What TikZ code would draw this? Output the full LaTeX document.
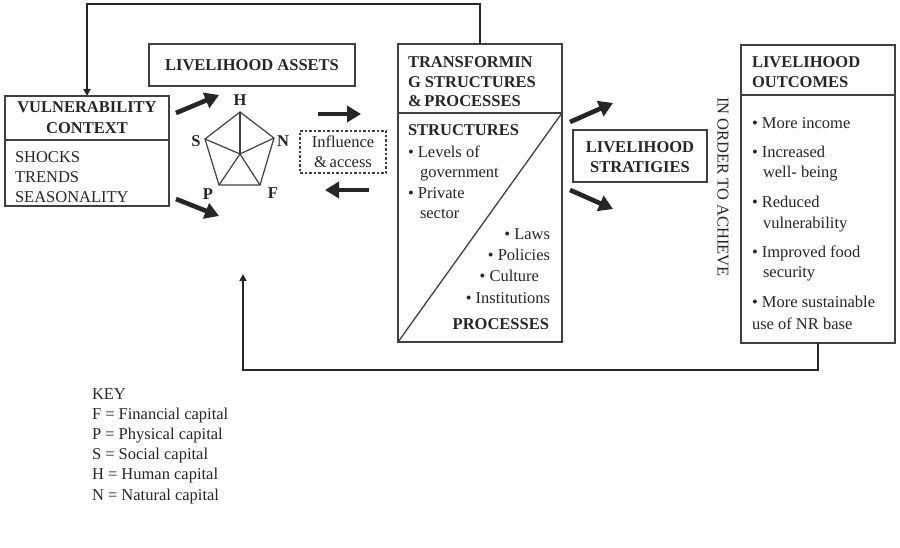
\documentclass[tikz,border=0pt]{standalone}
\usepackage{fontspec}
\setmainfont{Liberation Serif}
\usetikzlibrary{arrows.meta}
\definecolor{ink}{HTML}{262626}
\definecolor{edge}{HTML}{404040}
\begin{document}
\begin{tikzpicture}[x=1pt,y=-1pt,
  every node/.style={inner sep=0pt, outer sep=0pt, text=ink, font=\fontsize{16.5}{20}\selectfont},
  box/.style={draw=edge, line width=1.3pt, rectangle},
  bt/.style={font=\fontsize{16.5}{20}\selectfont\bfseries},
  lab/.style={anchor=base west},
  labc/.style={anchor=base},
  labe/.style={anchor=base east},
  fat/.style={line width=4.6pt, draw=ink, -{Triangle[length=14pt,width=16pt]}},
  fb/.style={line width=1.8pt, draw=ink, -{Triangle[length=7pt,width=7pt]}},
  thin/.style={draw=edge, line width=1.3pt},
]
\useasboundingbox (0,0) rectangle (900,548);

% ---------- Vulnerability context
\node[box, minimum width=164pt, minimum height=110pt] (vc) at (87,151) {};
\draw[thin] (5,140) -- (169,140);
\node[bt,labc] (vc1) at (87,113) {VULNERABILITY};
\node[bt,labc] (vc2) at (87,134) {CONTEXT};
\node[lab] (vc3) at (15,163) {SHOCKS};
\node[lab] (vc4) at (15,183) {TRENDS};
\node[lab] (vc5) at (15,203) {SEASONALITY};

% ---------- Livelihood assets
\node[box, minimum width=206pt, minimum height=42pt] (la) at (252,65) {};
\node[bt,labc] (la1) at (252,71) {LIVELIHOOD ASSETS};

% pentagon
\coordinate (pc) at (240,154);
\coordinate (pH) at (240,112);
\coordinate (pN) at (274,138);
\coordinate (pF) at (260,185);
\coordinate (pP) at (219,185);
\coordinate (pS) at (205,139);
\draw[thin, line width=1.2pt] (pH) -- (pN) -- (pF) -- (pP) -- (pS) -- cycle;
\foreach \v in {pH,pN,pF,pP,pS} \draw[thin, line width=1.2pt] (pc) -- (\v);
\node[bt] (lH) at (240,100) {H};
\node[bt] (lN) at (283,141) {N};
\node[bt] (lF) at (273,193) {F};
\node[bt] (lP) at (208,194) {P};
\node[bt] (lS) at (196,141) {S};

% influence & access
\node[draw=edge, dash pattern=on 2.5pt off 2pt, line width=1.1pt, minimum width=86pt, minimum height=42pt] (ia) at (343,152) {};
\node[labc] (ia1) at (343,148) {Influence};
\node[labc] (ia2) at (343,168) {\&\,access};

% thick arrows
\coordinate (a1s) at (176,113); \coordinate (a1e) at (219,95);
\coordinate (a2s) at (176,199); \coordinate (a2e) at (219,216);
\coordinate (a3s) at (318,114); \coordinate (a3e) at (361,114);
\coordinate (a4s) at (369,190); \coordinate (a4e) at (325,190);
\coordinate (a5s) at (570,122); \coordinate (a5e) at (613,103);
\coordinate (a6s) at (570,190); \coordinate (a6e) at (613,209);
\draw[fat] (a1s) -- (a1e);
\draw[fat] (a2s) -- (a2e);
\draw[fat] (a3s) -- (a3e);
\draw[fat] (a4s) -- (a4e);
\draw[fat] (a5s) -- (a5e);
\draw[fat] (a6s) -- (a6e);

% ---------- Transforming structures
\node[box, minimum width=164pt, minimum height=298pt] (ts) at (480,193) {};
\draw[thin] (398,113) -- (562,113);
\draw[thin] (398,342) -- (562,113);
\node[bt,lab] (ts1) at (408,68) {TRANSFORMIN};
\node[bt,lab] (ts2) at (408,88) {G STRUCTURES};
\node[bt,lab] (ts3) at (408,107) {\&\,PROCESSES};
\node[bt,lab] (ts4) at (408,136) {STRUCTURES};
\node[lab] (ts5) at (408,158) {\textbullet\ Levels of};
\node[lab] (ts6) at (420,178) {government};
\node[lab] (ts7) at (408,199) {\textbullet\ Private};
\node[lab] (ts8) at (420,219) {sector};
\node[labe] (ts9) at (550,240) {\textbullet\ Laws};
\node[labe] (ts10) at (550,261) {\textbullet\ Policies};
\node[labe] (ts11) at (539,282) {\textbullet\ Culture};
\node[labe] (ts12) at (550,303) {\textbullet\ Institutions};
\node[bt,labe] (ts13) at (549,330) {PROCESSES};

% ---------- Livelihood strategies
\node[box, minimum width=134pt, minimum height=52pt] (ls) at (640,156) {};
\node[bt,labc] (ls1) at (640,153) {LIVELIHOOD};
\node[bt,labc] (ls2) at (640,173) {STRATIGIES};

\node[rotate=-90] (ioa) at (723,187) {IN ORDER TO ACHIEVE};

% ---------- Livelihood outcomes
\node[box, minimum width=154pt, minimum height=298pt] (lo) at (818,194) {};
\draw[thin] (741,95) -- (895,95);
\node[bt,lab] (lo1) at (752,68) {LIVELIHOOD};
\node[bt,lab] (lo2) at (752,88) {OUTCOMES};
\node[lab] (lo3) at (752,129) {\textbullet\ More income};
\node[lab] (lo4) at (752,158) {\textbullet\ Increased};
\node[lab] (lo5) at (763,178) {well- being};
\node[lab] (lo6) at (752,208) {\textbullet\ Reduced};
\node[lab] (lo7) at (763,229) {vulnerability};
\node[lab] (lo8) at (752,258) {\textbullet\ Improved food};
\node[lab] (lo9) at (763,278) {security};
\node[lab] (lo10) at (752,307) {\textbullet\ More sustainable};
\node[lab] (lo11) at (752,329) {use of NR base};

% ---------- feedback loops
\coordinate (fbtip) at (243,274);
\draw[fb] (ts.north) -- ++(0,-40) -| (vc.north);
\draw[fb] (lo.south) -- ++(0,27) -| (fbtip);

% ---------- key
\node[lab] (k0) at (92,399) {KEY};
\node[lab] (k1) at (92,419) {F = Financial capital};
\node[lab] (k2) at (92,439) {P = Physical capital};
\node[lab] (k3) at (92,459) {S = Social capital};
\node[lab] (k4) at (92,479) {H = Human capital};
\node[lab] (k5) at (92,500) {N = Natural capital};
\end{tikzpicture}
\end{document}
